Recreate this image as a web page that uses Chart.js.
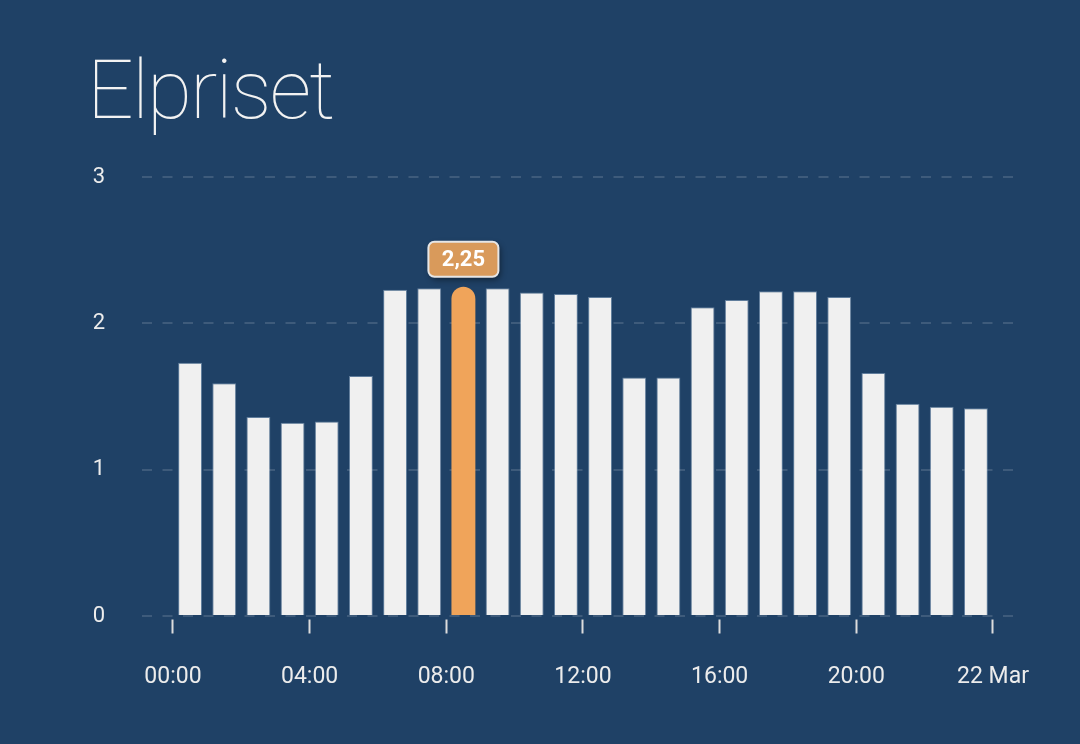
<!DOCTYPE html>
<html>
<head>
<meta charset="utf-8">
<script src="https://cdn.jsdelivr.net/npm/chart.js@4/dist/chart.umd.min.js"></script>
<style>
  html, body { margin: 0; padding: 0; background: #1f4166; }
  #wrap { position: relative; width: 1080px; height: 744px; background: #1f4166; overflow: hidden; }
  #title { position: absolute; left: 87px; top: 40px; margin: 0; font-family: Roboto, "Noto Sans", sans-serif;
           font-weight: 100; font-size: 82px; line-height: 100px; color: #f2f2f2; letter-spacing: -1.8px; }
  canvas { position: absolute; left: 0; top: 0; }
</style>
</head>
<body>
<div id="wrap">
  <h1 id="title">Elpriset</h1>
  <canvas id="c" width="1080" height="744"></canvas>
</div>
<script>
// Hour of day (bar start) and price per hour
const hours = [0,1,2,3,4,5,6,7,8,9,10,11,12,13,14,15,16,17,18,19,20,21,22,23];
const prices = [1.73,1.59,1.36,1.32,1.33,1.64,2.23,2.24,2.25,2.24,2.21,2.20,2.18,1.63,1.63,2.11,2.16,2.22,2.22,2.18,1.66,1.45,1.43,1.42];
const highlightIndex = 8;
const highlightLabel = "2,25";
const xTickValues = [0,4,8,12,16,20,24];
const xTickLabels = ["00:00","04:00","08:00","12:00","16:00","20:00","22 Mar"];
const yTickValues = [0,1,2,3];

const FONT = 'Roboto, "Noto Sans", sans-serif';

const labelPlugin = {
  id: 'hlLabel',
  afterDatasetsDraw(chart) {
    const meta = chart.getDatasetMeta(0);
    const el = meta.data[highlightIndex];
    if (!el) return;
    const ctx = chart.ctx;
    const w = 70, h = 35, r = 6;
    const cx = el.x;
    const bottom = el.y - 10;
    const x0 = cx - w / 2, y0 = bottom - h;
    ctx.save();
    ctx.shadowColor = 'rgba(0,0,0,0.45)';
    ctx.shadowBlur = 6;
    ctx.shadowOffsetX = 2;
    ctx.shadowOffsetY = 3;
    ctx.beginPath();
    ctx.roundRect(x0, y0, w, h, r);
    ctx.fillStyle = '#d99a5b';
    ctx.fill();
    ctx.shadowColor = 'transparent';
    ctx.lineWidth = 2;
    ctx.strokeStyle = '#e6e6e6';
    ctx.stroke();
    ctx.fillStyle = '#ffffff';
    ctx.font = 'bold 22px ' + FONT;
    ctx.textAlign = 'center';
    ctx.textBaseline = 'middle';
    ctx.fillText(highlightLabel, cx, y0 + h / 2 + 1);
    ctx.restore();
  }
};

const data = hours.map((h, i) => ({ x: h + 0.5, y: prices[i] }));

new Chart(document.getElementById('c'), {
  type: 'bar',
  data: {
    datasets: [{
      data: data,
      backgroundColor: prices.map((_, i) => i === highlightIndex ? '#f0a45a' : '#f0f0f0'),
      borderColor: prices.map((_, i) => i === highlightIndex ? '#f0a45a' : 'rgba(150,175,200,0.55)'),
      borderWidth: prices.map((_, i) => i === highlightIndex ? 0 : 1),
      borderSkipped: 'bottom',
      borderRadius: prices.map((_, i) => i === highlightIndex ? { topLeft: 12, topRight: 12, bottomLeft: 0, bottomRight: 0 } : 0),
      categoryPercentage: 1,
      barPercentage: 0.7
    }]
  },
  options: {
    responsive: false,
    animation: false,
    devicePixelRatio: 1,
    layout: { padding: { top: 177, right: 65, bottom: 0, left: 0 } },
    plugins: { legend: { display: false }, tooltip: { enabled: false }, title: { display: false } },
    scales: {
      x: {
        type: 'linear',
        offset: false,
        bounds: 'data',
        min: -0.907,
        max: 24.644,
        afterBuildTicks(scale) { scale.ticks = xTickValues.map(v => ({ value: v })); },
        afterFit(scale) { scale.height = 128; },
        ticks: {
          color: '#ececec',
          font: { family: FONT, size: 23 },
          padding: 29,
          maxRotation: 0,
          autoSkip: false,
          callback(value) { const k = xTickValues.indexOf(value); return k >= 0 ? xTickLabels[k] : ''; }
        },
        grid: {
          offset: false,
          drawOnChartArea: false,
          drawTicks: true,
          tickLength: 18,
          tickColor: '#dcdcdc',
          tickWidth: 2,
          tickBorderDash: [0, 3.5, 14, 100]
        },
        border: { display: false }
      },
      y: {
        min: 0,
        max: 3,
        afterBuildTicks(scale) { scale.ticks = yTickValues.map(v => ({ value: v })); },
        afterFit(scale) { scale.width = 142; },
        ticks: {
          color: '#ececec',
          font: { family: FONT, size: 22 },
          padding: 37
        },
        grid: {
          color: 'rgba(255,255,255,0.14)',
          lineWidth: 2,
          drawTicks: false
        },
        border: { display: false, dash: [10, 10.5] }
      }
    }
  },
  plugins: [labelPlugin]
});
</script>
</body>
</html>
